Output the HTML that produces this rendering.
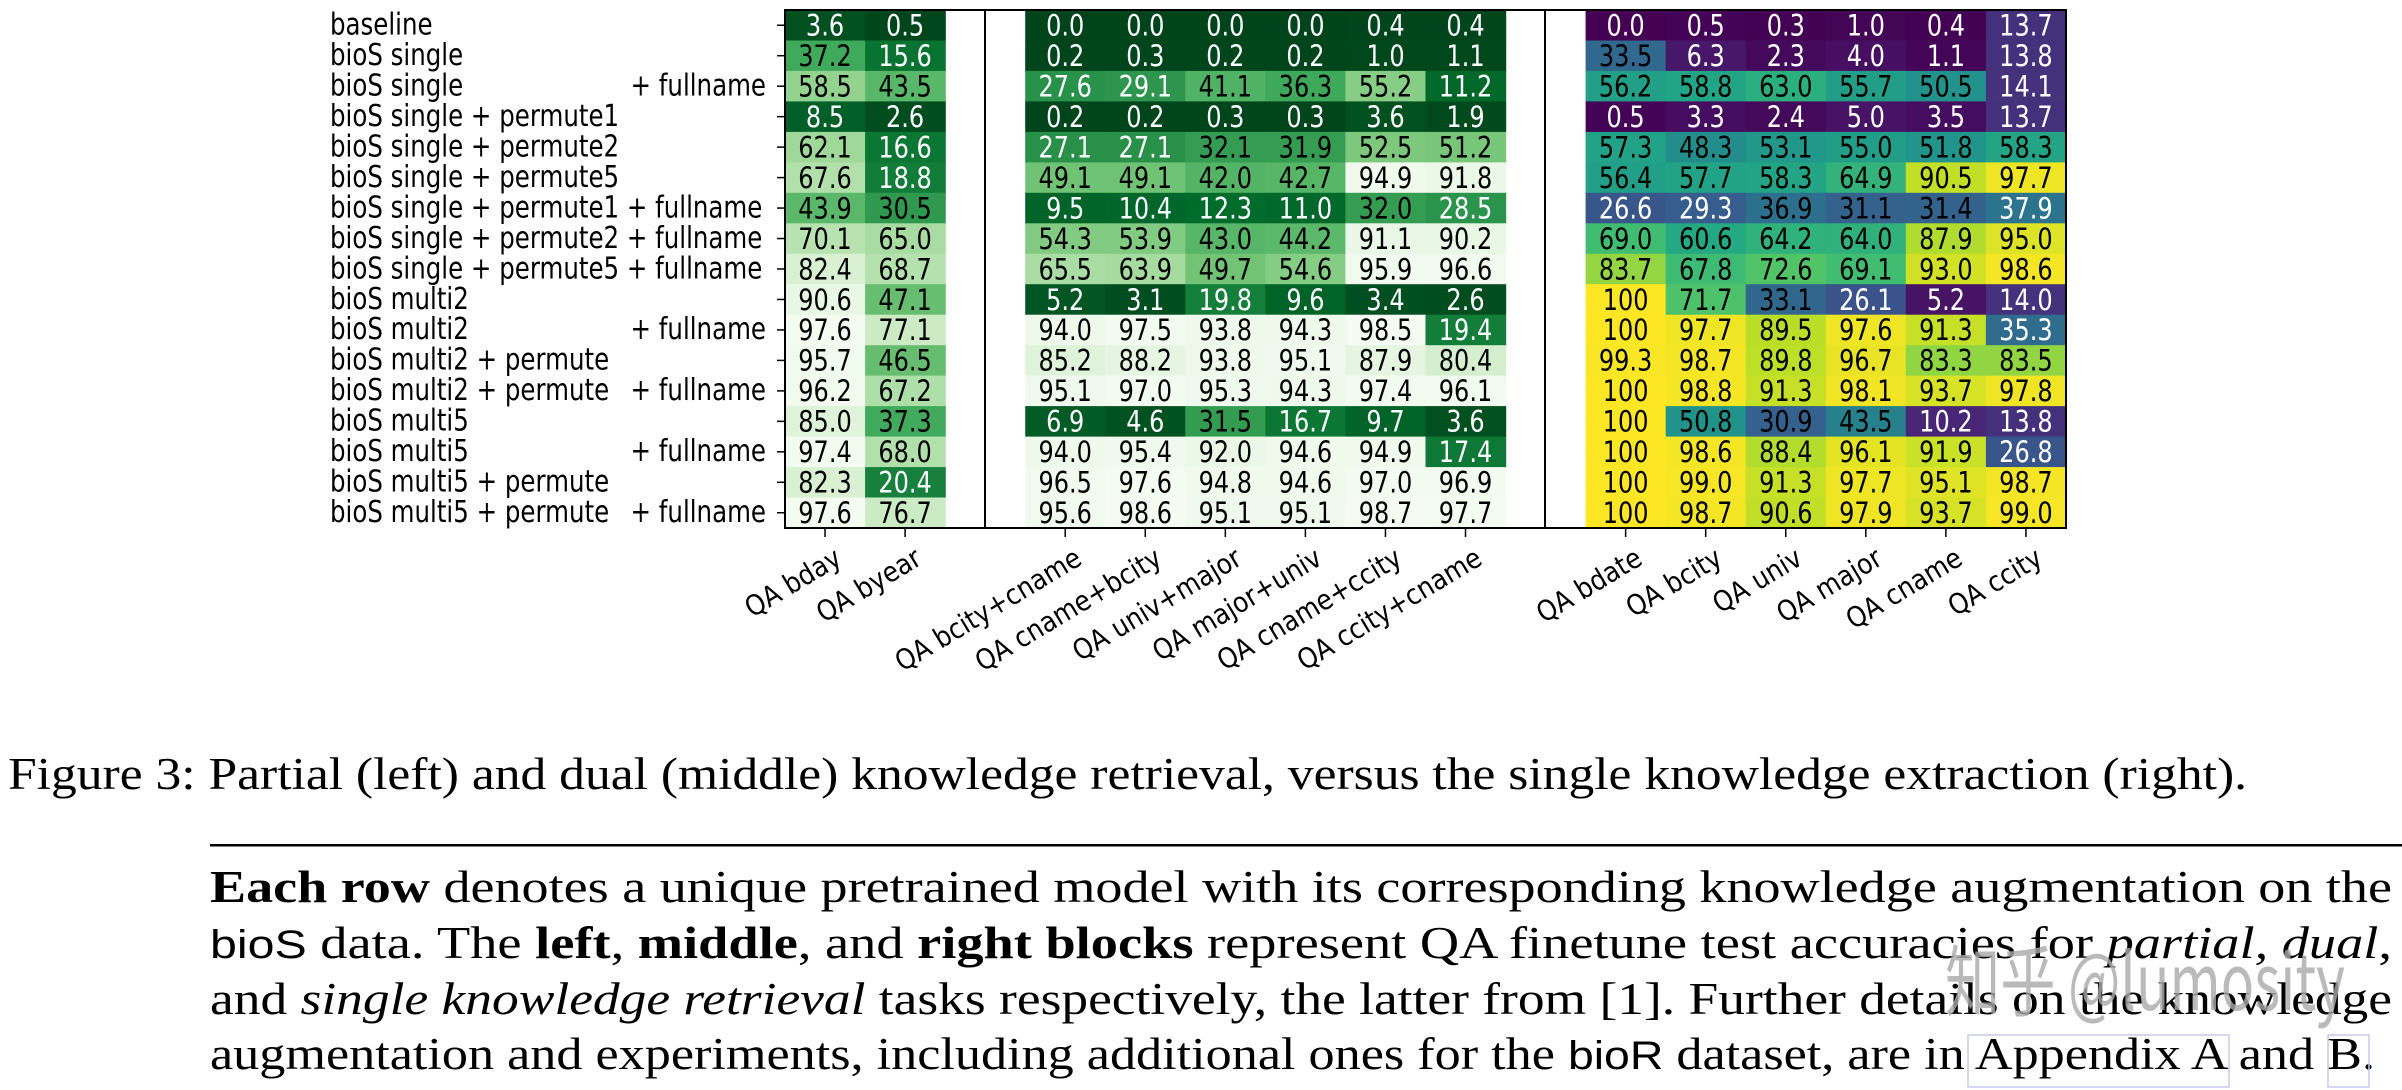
<!DOCTYPE html>
<html><head><meta charset="utf-8"><style>
html,body{margin:0;padding:0;background:#fff;width:2402px;height:1090px;overflow:hidden}
svg{display:block}
</style></head><body>
<svg id="s" width="2402" height="1090" xmlns="http://www.w3.org/2000/svg"></svg>
<script>
const S=document.getElementById('s');
let h='';
const data=[
[3.6,0.5,0.0,0.0,0.0,0.0,0.4,0.4,0.0,0.5,0.3,1.0,0.4,13.7],
[37.2,15.6,0.2,0.3,0.2,0.2,1.0,1.1,33.5,6.3,2.3,4.0,1.1,13.8],
[58.5,43.5,27.6,29.1,41.1,36.3,55.2,11.2,56.2,58.8,63.0,55.7,50.5,14.1],
[8.5,2.6,0.2,0.2,0.3,0.3,3.6,1.9,0.5,3.3,2.4,5.0,3.5,13.7],
[62.1,16.6,27.1,27.1,32.1,31.9,52.5,51.2,57.3,48.3,53.1,55.0,51.8,58.3],
[67.6,18.8,49.1,49.1,42.0,42.7,94.9,91.8,56.4,57.7,58.3,64.9,90.5,97.7],
[43.9,30.5,9.5,10.4,12.3,11.0,32.0,28.5,26.6,29.3,36.9,31.1,31.4,37.9],
[70.1,65.0,54.3,53.9,43.0,44.2,91.1,90.2,69.0,60.6,64.2,64.0,87.9,95.0],
[82.4,68.7,65.5,63.9,49.7,54.6,95.9,96.6,83.7,67.8,72.6,69.1,93.0,98.6],
[90.6,47.1,5.2,3.1,19.8,9.6,3.4,2.6,100,71.7,33.1,26.1,5.2,14.0],
[97.6,77.1,94.0,97.5,93.8,94.3,98.5,19.4,100,97.7,89.5,97.6,91.3,35.3],
[95.7,46.5,85.2,88.2,93.8,95.1,87.9,80.4,99.3,98.7,89.8,96.7,83.3,83.5],
[96.2,67.2,95.1,97.0,95.3,94.3,97.4,96.1,100,98.8,91.3,98.1,93.7,97.8],
[85.0,37.3,6.9,4.6,31.5,16.7,9.7,3.6,100,50.8,30.9,43.5,10.2,13.8],
[97.4,68.0,94.0,95.4,92.0,94.6,94.9,17.4,100,98.6,88.4,96.1,91.9,26.8],
[82.3,20.4,96.5,97.6,94.8,94.6,97.0,96.9,100,99.0,91.3,97.7,95.1,98.7],
[97.6,76.7,95.6,98.6,95.1,95.1,98.7,97.7,100,98.7,90.6,97.9,93.7,99.0]];
const labels=[["baseline",""],["bioS single",""],["bioS single","+ fullname"],["bioS single + permute1",""],["bioS single + permute2",""],["bioS single + permute5",""],["bioS single + permute1 + fullname",""],["bioS single + permute2 + fullname",""],["bioS single + permute5 + fullname",""],["bioS multi2",""],["bioS multi2","+ fullname"],["bioS multi2 + permute",""],["bioS multi2 + permute","+ fullname"],["bioS multi5",""],["bioS multi5","+ fullname"],["bioS multi5 + permute",""],["bioS multi5 + permute","+ fullname"]];
const greens=["#f7fcf5","#e5f5e0","#c7e9c0","#a1d99b","#74c476","#41ab5d","#238b45","#006d2c","#00441b"];
const vir=["#440154","#482475","#414487","#355f8d","#2a788e","#21918c","#22a884","#44bf70","#7ad151","#bddf26","#fde725"];
function hx(c){return [1,3,5].map(i=>parseInt(c.substr(i,2),16));}
function interp(st,t){t=Math.max(0,Math.min(1,t));const n=st.length-1;let i=Math.min(n-1,Math.floor(t*n));const f=t*n-i;const a=hx(st[i]),b=hx(st[i+1]);return 'rgb('+a.map((v,k)=>Math.round(v+(b[k]-v)*f)).join(',')+')';}
const X0=785,CW=80.06,Y0=10,RH=(528-10)/17;
const cols=[0,1,3,4,5,6,7,8,10,11,12,13,14,15];
const font='font-family="DejaVu Sans, Liberation Sans, sans-serif"';
const SY=1.22;
for(let r=0;r<17;r++){
  for(let j=0;j<14;j++){
    const v=data[r][j],c=cols[j],x=X0+c*CW,y=Y0+r*RH;
    let fill,tc;
    if(j<8){fill=interp(greens,1-v/100);tc=v<30?'#fff':'#000';}
    else{fill=interp(vir,v/100);tc=(v<30||v==35.3||v==37.9)?'#fff':'#000';}
    h+=`<rect x="${x.toFixed(1)}" y="${y.toFixed(1)}" width="${(CW+0.6).toFixed(1)}" height="${(RH+0.6).toFixed(1)}" fill="${fill}"/>`;
    const s=(v===100)?'100':v.toFixed(1);
    h+=`<text transform="translate(${(x+CW/2).toFixed(1)},${(y+RH/2+1).toFixed(1)}) scale(1,${SY})" ${font} font-size="24" fill="${tc}" text-anchor="middle" dominant-baseline="central">${s}</text>`;
  }
  const cy=Y0+r*RH+RH/2;
  h+=`<line x1="777" y1="${cy}" x2="785" y2="${cy}" stroke="#000" stroke-width="1.5"/>`;
  h+=`<text transform="translate(330,${cy}) scale(1,${SY})" ${font} font-size="24.5" dominant-baseline="central">${labels[r][0]}</text>`;
  if(labels[r][1])h+=`<text transform="translate(766,${cy}) scale(1,${SY})" ${font} font-size="24.5" text-anchor="end" dominant-baseline="central">${labels[r][1]}</text>`;
}
h+=`<rect x="785" y="10" width="1281" height="518" fill="none" stroke="#000" stroke-width="2"/>`;
h+=`<line x1="985" y1="10" x2="985" y2="528" stroke="#000" stroke-width="2"/><line x1="1545" y1="10" x2="1545" y2="528" stroke="#000" stroke-width="2"/>`;
const xl=["QA bday","QA byear","QA bcity+cname","QA cname+bcity","QA univ+major","QA major+univ","QA cname+ccity","QA ccity+cname","QA bdate","QA bcity","QA univ","QA major","QA cname","QA ccity"];
for(let j=0;j<14;j++){const cx=X0+cols[j]*CW+CW/2;
  h+=`<line x1="${cx}" y1="528" x2="${cx}" y2="537" stroke="#000" stroke-width="1.5"/>`;
  h+=`<text transform="translate(${cx+8},546) rotate(-31) scale(1,1.12)" ${font} font-size="25" text-anchor="end" y="18">${xl[j]}</text>`;}
const ser='font-family="Liberation Serif, serif"';
h+=`<text x="8" y="789" ${ser} font-size="45" textLength="2239" lengthAdjust="spacingAndGlyphs">Figure 3: Partial (left) and dual (middle) knowledge retrieval, versus the single knowledge extraction (right).</text>`;
h+=`<rect x="210" y="844" width="2192" height="2.5" fill="#000"/>`;
const sans='font-family="Liberation Sans, sans-serif"';
h+=`<text x="210" y="902" ${ser} font-size="45" textLength="2182" lengthAdjust="spacingAndGlyphs"><tspan font-weight="bold">Each row</tspan> denotes a unique pretrained model with its corresponding knowledge augmentation on the</text>`;
h+=`<text x="210" y="958" ${ser} font-size="45" textLength="2182" lengthAdjust="spacingAndGlyphs"><tspan ${sans} font-size="40">bioS</tspan> data.  The <tspan font-weight="bold">left</tspan>, <tspan font-weight="bold">middle</tspan>, and <tspan font-weight="bold">right blocks</tspan> represent QA finetune test accuracies for <tspan font-style="italic">partial, dual</tspan>,</text>`;
h+=`<text x="210" y="1014" ${ser} font-size="45" textLength="2182" lengthAdjust="spacingAndGlyphs">and <tspan font-style="italic">single knowledge retrieval</tspan> tasks respectively, the latter from [1].  Further details on the knowledge</text>`;
h+=`<text x="210" y="1069" ${ser} font-size="45" textLength="2165" lengthAdjust="spacingAndGlyphs">augmentation and experiments, including additional ones for the <tspan ${sans} font-size="40">bioR</tspan> dataset, are in Appendix A and B.</text>`;
h+=`<rect x="1968" y="1035" width="261" height="52" fill="none" stroke="#c8c8ee" stroke-width="1.5"/><rect x="2328" y="1035" width="41" height="52" fill="none" stroke="#c8c8ee" stroke-width="1.5"/>`;
h+=`<text x="1945" y="1010" font-family="Noto Sans CJK SC, Liberation Sans, sans-serif" font-size="78" fill="#aaaaaa" opacity="0.8" textLength="400" lengthAdjust="spacingAndGlyphs">知乎 @lumosity</text>`;
S.innerHTML=h;
</script>
</body></html>
